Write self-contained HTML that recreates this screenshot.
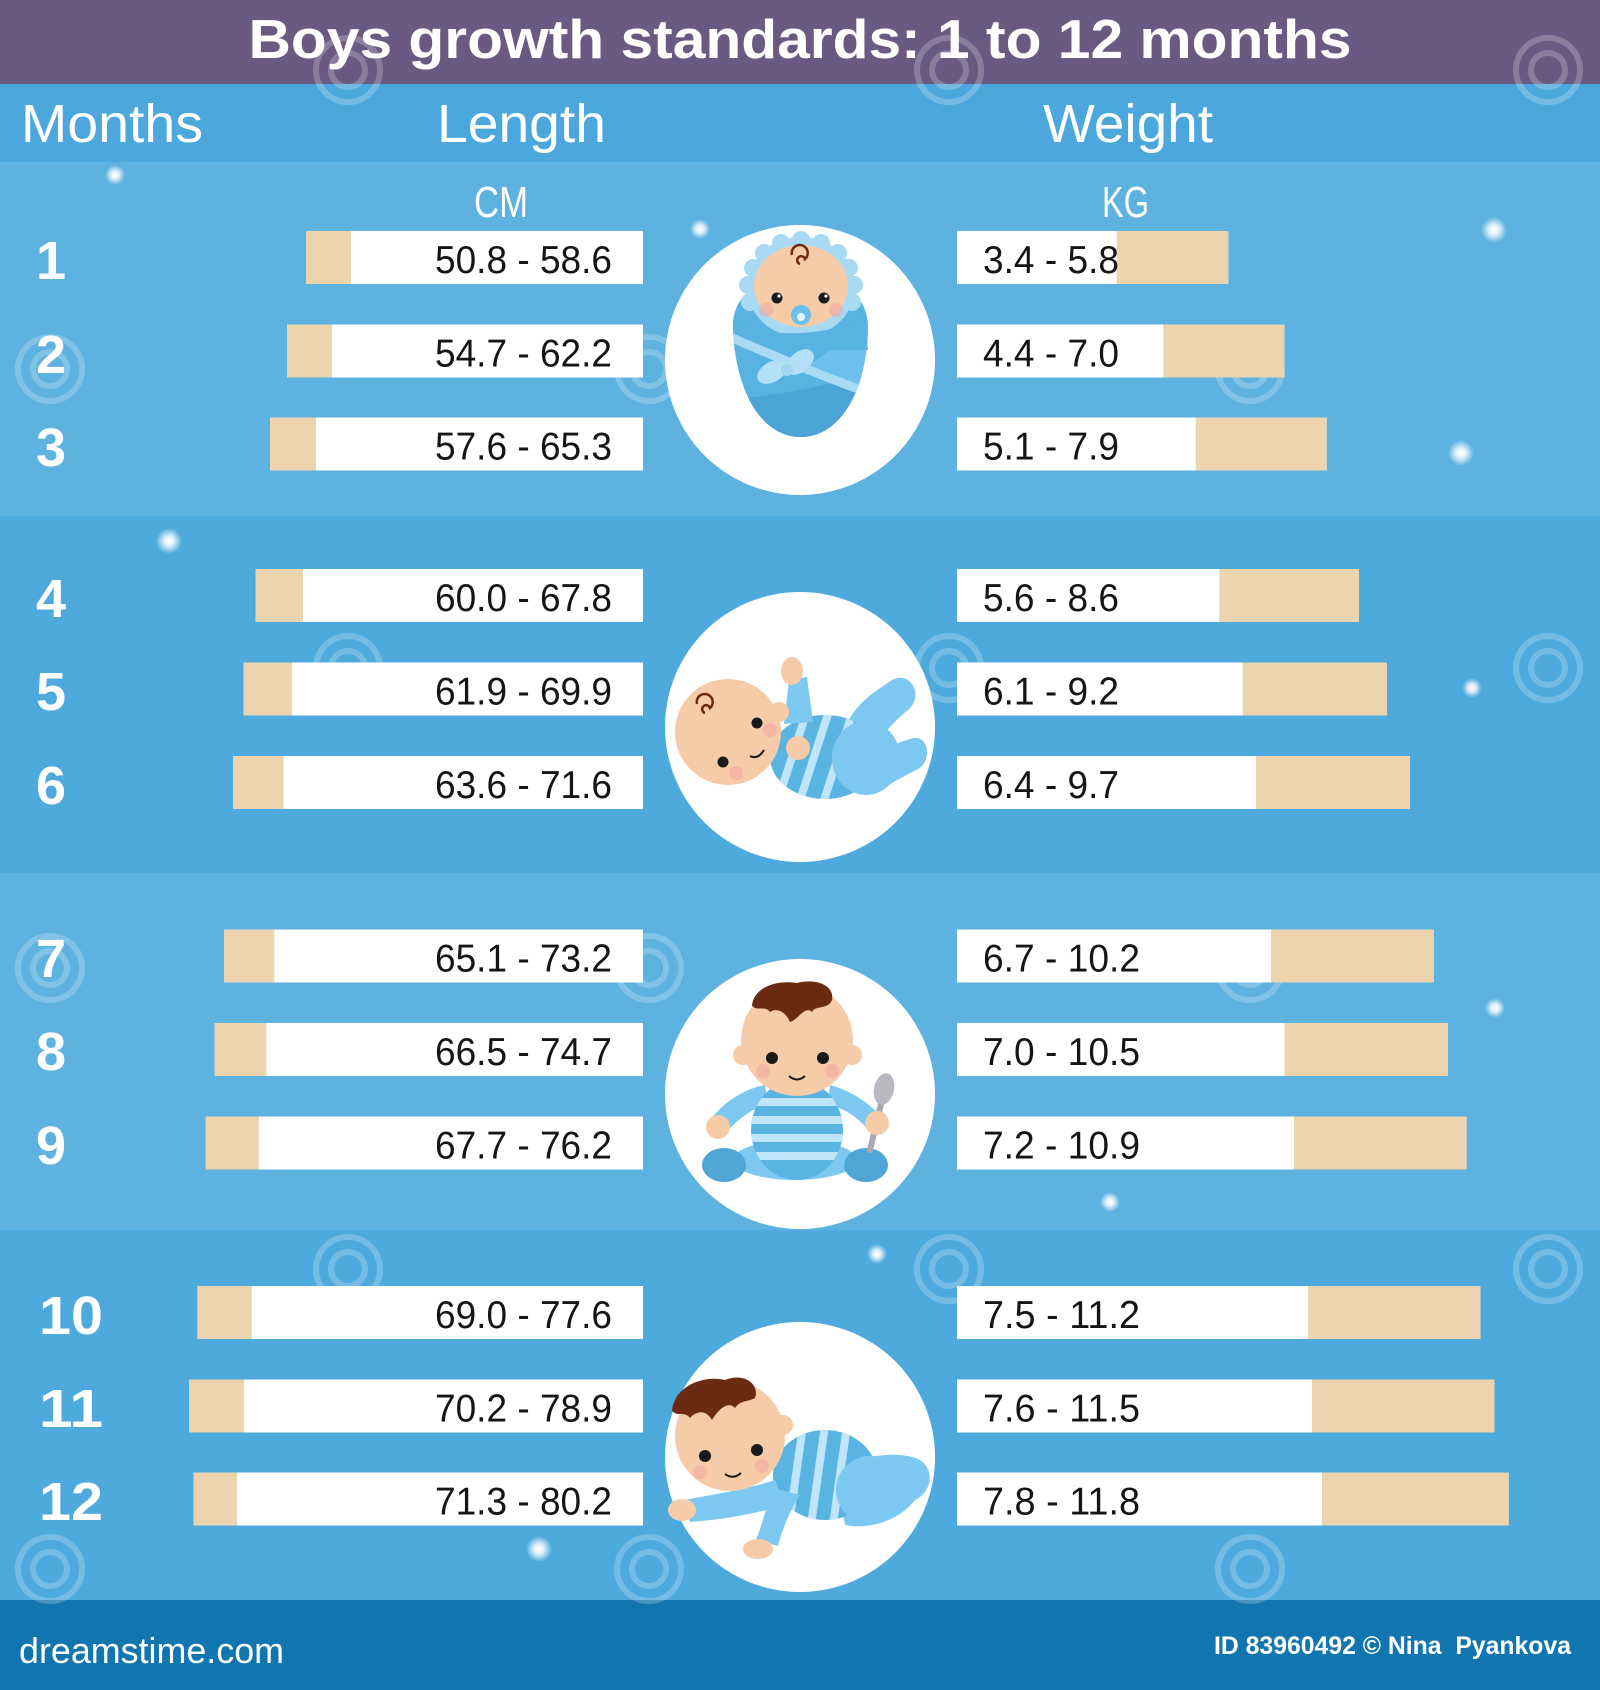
<!DOCTYPE html>
<html>
<head>
<meta charset="utf-8">
<style>
html,body{margin:0;padding:0;background:#5db2e0;}
svg{display:block;}
text{font-family:"Liberation Sans",sans-serif;}
</style>
</head>
<body>
<svg width="1600" height="1690" viewBox="0 0 1600 1690" xmlns="http://www.w3.org/2000/svg">
<defs>
<radialGradient id="snow"><stop offset="0" stop-color="#fff" stop-opacity="1"/><stop offset=".35" stop-color="#fff" stop-opacity=".85"/><stop offset="1" stop-color="#fff" stop-opacity="0"/></radialGradient>
<clipPath id="b2"><ellipse cx="825" cy="757" rx="55" ry="42"/></clipPath>
<clipPath id="b3"><ellipse cx="797" cy="1130" rx="46" ry="50"/></clipPath>
<clipPath id="b4"><ellipse cx="825" cy="1475" rx="52" ry="45"/></clipPath>
<clipPath id="sw"><path d="M733 330 C728 255 872 255 868 330 C866 395 838 437 801 437 C763 437 736 395 733 330Z"/></clipPath>
</defs>

<!-- backgrounds -->
<rect x="0" y="0" width="1600" height="84" fill="#6a5a82"/>
<rect x="0" y="84" width="1600" height="78" fill="#4ca8dc"/>
<rect x="0" y="162" width="1600" height="354" fill="#5db2e0"/>
<rect x="0" y="516" width="1600" height="357" fill="#4eaadd"/>
<rect x="0" y="873" width="1600" height="357" fill="#5db2e0"/>
<rect x="0" y="1230" width="1600" height="370" fill="#4eaadd"/>
<rect x="0" y="1600" width="1600" height="90" fill="#1176b0"/>

<!-- watermark spirals -->
<g fill="none" stroke="#fff" stroke-opacity=".22" stroke-width="6">
<circle cx="348" cy="70" r="32"/><circle cx="348" cy="70" r="17"/>
<circle cx="949" cy="70" r="32"/><circle cx="949" cy="70" r="17"/>
<circle cx="1548" cy="70" r="32"/><circle cx="1548" cy="70" r="17"/>
<circle cx="50" cy="369" r="32"/><circle cx="50" cy="369" r="17"/>
<circle cx="649" cy="369" r="32"/><circle cx="649" cy="369" r="17"/>
<circle cx="1250" cy="369" r="32"/><circle cx="1250" cy="369" r="17"/>
<circle cx="348" cy="668" r="32"/><circle cx="348" cy="668" r="17"/>
<circle cx="949" cy="668" r="32"/><circle cx="949" cy="668" r="17"/>
<circle cx="1548" cy="668" r="32"/><circle cx="1548" cy="668" r="17"/>
<circle cx="50" cy="968" r="32"/><circle cx="50" cy="968" r="17"/>
<circle cx="649" cy="968" r="32"/><circle cx="649" cy="968" r="17"/>
<circle cx="1250" cy="968" r="32"/><circle cx="1250" cy="968" r="17"/>
<circle cx="348" cy="1269" r="32"/><circle cx="348" cy="1269" r="17"/>
<circle cx="949" cy="1269" r="32"/><circle cx="949" cy="1269" r="17"/>
<circle cx="1548" cy="1269" r="32"/><circle cx="1548" cy="1269" r="17"/>
<circle cx="50" cy="1569" r="32"/><circle cx="50" cy="1569" r="17"/>
<circle cx="649" cy="1569" r="32"/><circle cx="649" cy="1569" r="17"/>
<circle cx="1250" cy="1569" r="32"/><circle cx="1250" cy="1569" r="17"/>
</g>

<!-- snow dots -->
<g fill="url(#snow)">
<circle cx="115" cy="175" r="10"/><circle cx="700" cy="229" r="10"/><circle cx="1494" cy="230" r="13"/>
<circle cx="169" cy="541" r="13"/><circle cx="1461" cy="453" r="13"/><circle cx="1472" cy="688" r="10"/>
<circle cx="1495" cy="1008" r="10"/><circle cx="1110" cy="1202" r="10"/><circle cx="877" cy="1254" r="10"/>
<circle cx="539" cy="1549" r="13"/>
</g>

<!-- title & headers -->
<text x="800" y="58" text-anchor="middle" font-size="55" font-weight="bold" fill="#fff" textLength="1103" lengthAdjust="spacingAndGlyphs">Boys growth standards: 1 to 12 months</text>
<text x="21" y="142" font-size="54" fill="#fff" textLength="182" lengthAdjust="spacingAndGlyphs">Months</text>
<text x="437" y="142" font-size="54" fill="#fff" textLength="169" lengthAdjust="spacingAndGlyphs">Length</text>
<text x="1043" y="142" font-size="54" fill="#fff" textLength="170" lengthAdjust="spacingAndGlyphs">Weight</text>
<text x="474" y="217" font-size="44" fill="#fff" textLength="54" lengthAdjust="spacingAndGlyphs">CM</text>
<text x="1102" y="217" font-size="44" fill="#fff" textLength="47" lengthAdjust="spacingAndGlyphs">KG</text>

<!-- LEFT BARS -->
<g fill="#fff">
<rect x="306" y="231" width="337" height="53"/>
<rect x="287" y="324.5" width="356" height="53"/>
<rect x="270" y="417.5" width="373" height="53"/>
<rect x="255.5" y="569" width="387.5" height="53"/>
<rect x="243.6" y="662.5" width="399.4" height="53"/>
<rect x="233" y="756" width="410" height="53"/>
<rect x="224" y="929.5" width="419" height="53"/>
<rect x="214.6" y="1023" width="428.4" height="53"/>
<rect x="205.8" y="1116.5" width="437.2" height="53"/>
<rect x="197.4" y="1286" width="445.6" height="53"/>
<rect x="189" y="1379.5" width="454" height="53"/>
<rect x="193.6" y="1472.5" width="449.4" height="53"/>
</g>
<g fill="#ecd4af">
<rect x="306" y="231" width="45" height="53"/>
<rect x="287" y="324.5" width="45" height="53"/>
<rect x="270" y="417.5" width="46" height="53"/>
<rect x="255.5" y="569" width="47.5" height="53"/>
<rect x="243.6" y="662.5" width="48.4" height="53"/>
<rect x="233" y="756" width="50.5" height="53"/>
<rect x="224" y="929.5" width="50.4" height="53"/>
<rect x="214.6" y="1023" width="51.8" height="53"/>
<rect x="205.8" y="1116.5" width="53" height="53"/>
<rect x="197.4" y="1286" width="54.3" height="53"/>
<rect x="189" y="1379.5" width="55" height="53"/>
<rect x="193.6" y="1472.5" width="43.4" height="53"/>
</g>

<!-- RIGHT BARS -->
<g fill="#fff">
<rect x="957" y="231" width="271.3" height="53"/>
<rect x="957" y="324.5" width="327.3" height="53"/>
<rect x="957" y="417.5" width="369.7" height="53"/>
<rect x="957" y="569" width="402" height="53"/>
<rect x="957" y="662.5" width="430" height="53"/>
<rect x="957" y="756" width="453" height="53"/>
<rect x="957" y="929.5" width="476.7" height="53"/>
<rect x="957" y="1023" width="490.8" height="53"/>
<rect x="957" y="1116.5" width="509.6" height="53"/>
<rect x="957" y="1286" width="523.4" height="53"/>
<rect x="957" y="1379.5" width="537.5" height="53"/>
<rect x="957" y="1472.5" width="551.7" height="53"/>
</g>
<g fill="#ecd4af">
<rect x="1116.7" y="231" width="111.6" height="53"/>
<rect x="1163.3" y="324.5" width="121" height="53"/>
<rect x="1195.7" y="417.5" width="131" height="53"/>
<rect x="1219.3" y="569" width="139.7" height="53"/>
<rect x="1242.7" y="662.5" width="144.3" height="53"/>
<rect x="1256" y="756" width="154" height="53"/>
<rect x="1271" y="929.5" width="162.7" height="53"/>
<rect x="1284.4" y="1023" width="163.4" height="53"/>
<rect x="1294" y="1116.5" width="172.6" height="53"/>
<rect x="1308.2" y="1286" width="172.2" height="53"/>
<rect x="1312" y="1379.5" width="182.5" height="53"/>
<rect x="1322" y="1472.5" width="186.7" height="53"/>
</g>

<!-- month labels -->
<g font-size="54" font-weight="bold" fill="#fff">
<text x="36" y="279">1</text>
<text x="36" y="373">2</text>
<text x="36" y="466">3</text>
<text x="36" y="617">4</text>
<text x="36" y="710">5</text>
<text x="36" y="804">6</text>
<text x="36" y="977">7</text>
<text x="36" y="1070">8</text>
<text x="36" y="1164">9</text>
<text x="39" y="1334" textLength="64" lengthAdjust="spacingAndGlyphs">10</text>
<text x="39" y="1427" textLength="64" lengthAdjust="spacingAndGlyphs">11</text>
<text x="39" y="1520" textLength="64" lengthAdjust="spacingAndGlyphs">12</text>
</g>

<!-- left values -->
<g font-size="39" fill="#151515">
<text x="435" y="273" textLength="177" lengthAdjust="spacingAndGlyphs">50.8 - 58.6</text>
<text x="435" y="366.5" textLength="177" lengthAdjust="spacingAndGlyphs">54.7 - 62.2</text>
<text x="435" y="459.5" textLength="177" lengthAdjust="spacingAndGlyphs">57.6 - 65.3</text>
<text x="435" y="611" textLength="177" lengthAdjust="spacingAndGlyphs">60.0 - 67.8</text>
<text x="435" y="704.5" textLength="177" lengthAdjust="spacingAndGlyphs">61.9 - 69.9</text>
<text x="435" y="798" textLength="177" lengthAdjust="spacingAndGlyphs">63.6 - 71.6</text>
<text x="435" y="971.5" textLength="177" lengthAdjust="spacingAndGlyphs">65.1 - 73.2</text>
<text x="435" y="1065" textLength="177" lengthAdjust="spacingAndGlyphs">66.5 - 74.7</text>
<text x="435" y="1158.5" textLength="177" lengthAdjust="spacingAndGlyphs">67.7 - 76.2</text>
<text x="435" y="1328" textLength="177" lengthAdjust="spacingAndGlyphs">69.0 - 77.6</text>
<text x="435" y="1421.5" textLength="177" lengthAdjust="spacingAndGlyphs">70.2 - 78.9</text>
<text x="435" y="1514.5" textLength="177" lengthAdjust="spacingAndGlyphs">71.3 - 80.2</text>
</g>

<!-- right values -->
<g font-size="39" fill="#151515">
<text x="983" y="273" textLength="136" lengthAdjust="spacingAndGlyphs">3.4 - 5.8</text>
<text x="983" y="366.5" textLength="136" lengthAdjust="spacingAndGlyphs">4.4 - 7.0</text>
<text x="983" y="459.5" textLength="136" lengthAdjust="spacingAndGlyphs">5.1 - 7.9</text>
<text x="983" y="611" textLength="136" lengthAdjust="spacingAndGlyphs">5.6 - 8.6</text>
<text x="983" y="704.5" textLength="136" lengthAdjust="spacingAndGlyphs">6.1 - 9.2</text>
<text x="983" y="798" textLength="136" lengthAdjust="spacingAndGlyphs">6.4 - 9.7</text>
<text x="983" y="971.5" textLength="157" lengthAdjust="spacingAndGlyphs">6.7 - 10.2</text>
<text x="983" y="1065" textLength="157" lengthAdjust="spacingAndGlyphs">7.0 - 10.5</text>
<text x="983" y="1158.5" textLength="157" lengthAdjust="spacingAndGlyphs">7.2 - 10.9</text>
<text x="983" y="1328" textLength="157" lengthAdjust="spacingAndGlyphs">7.5 - 11.2</text>
<text x="983" y="1421.5" textLength="157" lengthAdjust="spacingAndGlyphs">7.6 - 11.5</text>
<text x="983" y="1514.5" textLength="157" lengthAdjust="spacingAndGlyphs">7.8 - 11.8</text>
</g>

<!-- CIRCLE 1: swaddled baby -->
<circle cx="800" cy="360" r="135" fill="#fff"/>
<path d="M733 330 C728 255 872 255 868 330 C866 395 838 437 801 437 C763 437 736 395 733 330Z" fill="#58b3e3"/>
<g clip-path="url(#sw)">
<path d="M720 400 Q800 395 880 370 L880 450 L720 450Z" fill="#4ca3d5"/>
<path d="M800 372 L880 392 L880 330 L830 350Z" fill="#6dc0ec"/>
</g>
<ellipse cx="801" cy="287" rx="54" ry="50" fill="#a8daf3"/>
<g fill="#a8daf3">
<circle cx="750" cy="302" r="9"/><circle cx="748" cy="285" r="9"/><circle cx="753" cy="268" r="9"/>
<circle cx="764" cy="253" r="9"/><circle cx="781" cy="243" r="9"/><circle cx="801" cy="240" r="9"/>
<circle cx="821" cy="243" r="9"/><circle cx="838" cy="253" r="9"/><circle cx="849" cy="268" r="9"/>
<circle cx="854" cy="285" r="9"/><circle cx="852" cy="302" r="9"/>
</g>
<ellipse cx="801" cy="286" rx="47" ry="41" fill="#f6cba8"/>
<path d="M738 324 Q801 345 864 318 L868 350 L734 350Z" fill="#58b3e3"/>
<g clip-path="url(#sw)">
<path d="M728 336 Q800 368 872 394" stroke="#a9dcf4" stroke-width="9" fill="none"/>
</g>
<ellipse cx="772" cy="372" rx="16" ry="10" fill="#b3e0f6" transform="rotate(-30 772 372)"/>
<ellipse cx="800" cy="362" rx="16" ry="10" fill="#b3e0f6" transform="rotate(-40 800 362)"/>
<circle cx="787" cy="370" r="6" fill="#9fd5f0"/>
<circle cx="777" cy="298" r="5.5" fill="#1a1a1a"/><circle cx="824" cy="298" r="5.5" fill="#1a1a1a"/>
<circle cx="779" cy="296" r="1.6" fill="#fff"/><circle cx="826" cy="296" r="1.6" fill="#fff"/>
<circle cx="766" cy="310" r="7" fill="#f2a2a2" opacity=".5"/><circle cx="836" cy="310" r="7" fill="#f2a2a2" opacity=".5"/>
<circle cx="801" cy="315" r="10" fill="#6cc0ec"/><circle cx="801" cy="317" r="4" fill="#e4f5fd"/>
<path d="M800 264 a4 4 0 1 1 5 -5 a8 8 0 1 0 -13 -4" stroke="#6b2a12" stroke-width="2.5" fill="none"/>

<!-- CIRCLE 2: lying baby -->
<circle cx="800" cy="727" r="135" fill="#fff"/>
<path d="M842 738 C850 705 875 692 892 680 C910 670 925 695 908 710 C893 722 882 735 872 752Z" fill="#7cc8f0"/>
<path d="M858 772 C878 750 898 742 914 738 C930 736 932 764 916 770 C900 778 885 788 868 795Z" fill="#7cc8f0"/>
<ellipse cx="825" cy="757" rx="55" ry="42" fill="#5ab4e2"/>
<g clip-path="url(#b2)" fill="#bfe5f8">
<rect x="788" y="690" width="8" height="140" transform="rotate(18 792 757)"/>
<rect x="810" y="690" width="8" height="140" transform="rotate(18 814 757)"/>
<rect x="834" y="690" width="8" height="140" transform="rotate(18 838 757)"/>
</g>
<ellipse cx="866" cy="758" rx="34" ry="37" fill="#7cc8f0"/>
<path d="M784 724 L789 680 L807 677 L813 722Z" fill="#7cc8f0"/>
<ellipse cx="792" cy="671" rx="11" ry="14" fill="#f6cba8"/>
<circle cx="728" cy="732" r="53" fill="#f6cba8"/>
<circle cx="779" cy="712" r="10" fill="#f6cba8"/>
<circle cx="798" cy="748" r="12" fill="#f6cba8"/>
<circle cx="757" cy="723" r="5.5" fill="#1a1a1a"/><circle cx="723" cy="762" r="5.5" fill="#1a1a1a"/>
<circle cx="770" cy="730" r="7" fill="#f2a2a2" opacity=".5"/><circle cx="736" cy="773" r="7" fill="#f2a2a2" opacity=".5"/>
<path d="M750 756 q8 4 14 -6" stroke="#1a1a1a" stroke-width="2" fill="none"/>
<path d="M705 713 a4 4 0 1 1 5 -5 a8 8 0 1 0 -13 -4" stroke="#6b2a12" stroke-width="2.5" fill="none"/>

<!-- CIRCLE 3: sitting baby -->
<circle cx="800" cy="1094" r="135" fill="#fff"/>
<ellipse cx="795" cy="1160" rx="62" ry="20" fill="#7cc8f0"/>
<ellipse cx="724" cy="1165" rx="22" ry="17" fill="#4fa6d6"/>
<ellipse cx="866" cy="1165" rx="22" ry="17" fill="#4fa6d6"/>
<path d="M765 1085 C740 1090 722 1105 712 1118 L728 1130 C740 1118 752 1108 768 1105Z" fill="#7cc8f0"/>
<path d="M830 1085 C855 1092 870 1105 880 1115 L866 1127 C856 1117 845 1108 828 1105Z" fill="#7cc8f0"/>
<ellipse cx="797" cy="1130" rx="46" ry="50" fill="#5ab4e2"/>
<g clip-path="url(#b3)" fill="#bfe5f8">
<rect x="740" y="1098" width="120" height="8"/>
<rect x="740" y="1116" width="120" height="8"/>
<rect x="740" y="1134" width="120" height="8"/>
<rect x="740" y="1152" width="120" height="8"/>
</g>
<circle cx="718" cy="1127" r="12" fill="#f6cba8"/>
<line x1="881" y1="1104" x2="870" y2="1150" stroke="#a9a9b2" stroke-width="6" stroke-linecap="round"/>
<ellipse cx="884" cy="1089" rx="10" ry="16" fill="#b9b9c2" transform="rotate(12 884 1089)"/>
<circle cx="877" cy="1123" r="12" fill="#f6cba8"/>
<circle cx="797" cy="1040" r="56" fill="#f6cba8"/>
<circle cx="743" cy="1055" r="10" fill="#f6cba8"/><circle cx="852" cy="1055" r="10" fill="#f6cba8"/>
<path d="M752 1005 C755 985 780 980 797 983 C815 978 835 985 832 1000 C828 1010 815 1005 812 1012 C805 1005 798 1020 790 1022 C785 1010 775 1008 770 1012 C765 1005 755 1012 752 1005Z" fill="#6b2a12"/>
<circle cx="772" cy="1058" r="6" fill="#1a1a1a"/><circle cx="823" cy="1058" r="6" fill="#1a1a1a"/>
<circle cx="763" cy="1071" r="7" fill="#f2a2a2" opacity=".5"/><circle cx="832" cy="1071" r="7" fill="#f2a2a2" opacity=".5"/>
<path d="M789 1076 q8 7 16 0" stroke="#1a1a1a" stroke-width="2" fill="none"/>

<!-- CIRCLE 4: crawling baby -->
<circle cx="800" cy="1457" r="135" fill="#fff"/>
<path d="M835 1470 C860 1455 900 1450 920 1460 C935 1470 932 1492 915 1500 C900 1520 870 1530 845 1525Z" fill="#7cc8f0"/>
<ellipse cx="825" cy="1475" rx="52" ry="45" fill="#5ab4e2"/>
<g clip-path="url(#b4)" fill="#bfe5f8">
<rect x="792" y="1420" width="8" height="120" transform="rotate(8 796 1475)"/>
<rect x="814" y="1420" width="8" height="120" transform="rotate(8 818 1475)"/>
<rect x="836" y="1420" width="8" height="120" transform="rotate(8 840 1475)"/>
</g>
<ellipse cx="870" cy="1490" rx="34" ry="34" fill="#7cc8f0"/>
<path d="M775 1480 C745 1490 710 1495 685 1500 L690 1522 C720 1520 750 1515 785 1505Z" fill="#7cc8f0"/>
<path d="M772 1488 C766 1510 762 1525 756 1540 L778 1546 C782 1530 790 1510 800 1495Z" fill="#7cc8f0"/>
<ellipse cx="682" cy="1510" rx="14" ry="11" fill="#f6cba8"/>
<ellipse cx="758" cy="1549" rx="15" ry="10" fill="#f6cba8"/>
<circle cx="730" cy="1436" r="55" fill="#f6cba8"/>
<circle cx="783" cy="1425" r="10" fill="#f6cba8"/>
<path d="M672 1410 C675 1385 705 1375 725 1380 C745 1372 760 1385 755 1398 C748 1402 740 1400 735 1408 C728 1400 718 1410 712 1420 C705 1408 695 1412 690 1418 C684 1410 676 1418 672 1410Z" fill="#6b2a12"/>
<circle cx="705" cy="1456" r="6" fill="#1a1a1a"/><circle cx="757" cy="1450" r="6" fill="#1a1a1a"/>
<circle cx="700" cy="1472" r="7" fill="#f2a2a2" opacity=".5"/><circle cx="762" cy="1466" r="7" fill="#f2a2a2" opacity=".5"/>
<path d="M725 1474 q8 6 16 -1" stroke="#1a1a1a" stroke-width="2" fill="none"/>

<!-- footer -->
<text x="19" y="1663" font-size="36" fill="#fff" textLength="265" lengthAdjust="spacingAndGlyphs">dreamstime.com</text>
<text x="1214" y="1654" font-size="25" font-weight="bold" fill="#fff" textLength="357" lengthAdjust="spacingAndGlyphs" xml:space="preserve">ID 83960492 © Nina  Pyankova</text>
</svg>
</body>
</html>
